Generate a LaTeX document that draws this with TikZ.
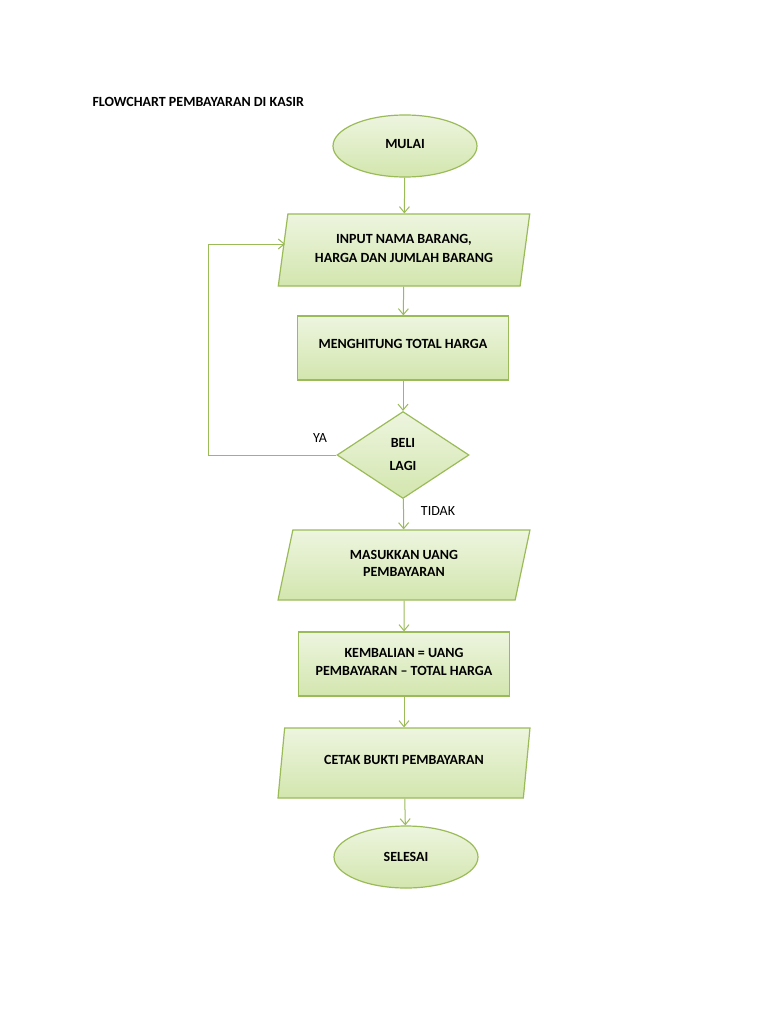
\documentclass[tikz,border=0pt]{standalone}
\usepackage{fontspec}
\setmainfont{Carlito}
\usetikzlibrary{shapes.geometric,arrows.meta}
\definecolor{gtop}{HTML}{EDF5DF}
\definecolor{gbot}{HTML}{D3E6AE}
\definecolor{gline}{HTML}{9BBB59}
\begin{document}
\begin{tikzpicture}[x=1pt,y=-1pt,
 box/.style={draw=gline,top color=gtop,bottom color=gbot,line width=1.2pt,align=center,font=\fontsize{14}{23}\selectfont\bfseries},
 term/.style={box,ellipse,minimum width=144pt,minimum height=62pt},
 proc/.style={box,rectangle,minimum width=211pt,minimum height=64pt},
 io/.style={box,trapezium,trapezium left angle=79,trapezium right angle=101,minimum width=240pt,minimum height=70pt,inner xsep=0pt,trapezium stretches=true},
 dec/.style={box,diamond,minimum width=132pt,minimum height=87pt,aspect=1.5,inner sep=0pt},
 arr/.style={draw=gline,line width=1pt,-{Straight Barb[length=6pt,width=10pt]}},
 lbl/.style={font=\fontsize{14}{16}\selectfont}]
\useasboundingbox (0,0) rectangle (768,1024);
\node[anchor=west,lbl,font=\fontsize{14}{16}\selectfont\bfseries] (title) at (89,102) {FLOWCHART PEMBAYARAN DI KASIR};
\node[term] (mulai) at (405,146) {\raisebox{4pt}{MULAI}};
\node[io,minimum width=252pt,minimum height=72pt] (in1) at (404,250) {\raisebox{3pt}{\shortstack{INPUT NAMA BARANG,\\[5pt]HARGA DAN JUMLAH BARANG}}};
\node[proc] (hit) at (403,348) {\raisebox{8pt}{MENGHITUNG TOTAL HARGA}};
\node[dec] (beli) at (403,455) {BELI\\LAGI};
\node[io,minimum width=252pt,minimum height=70pt] (masuk) at (404,565) {\raisebox{4pt}{\shortstack{MASUKKAN UANG\\[5pt]PEMBAYARAN}}};
\node[proc] (kemb) at (404,664) {\raisebox{4pt}{\shortstack{KEMBALIAN = UANG\\[5pt]PEMBAYARAN – TOTAL HARGA}}};
\node[io,minimum width=252pt,minimum height=70pt] (cetak) at (404,763) {\raisebox{7pt}{CETAK BUKTI PEMBAYARAN}};
\node[term] (sel) at (406,857) {SELESAI};
\draw[arr] (mulai) -- (in1);
\draw[arr] (in1) -- (hit);
\draw[arr] (hit) -- (beli);
\draw[arr] (beli) -- (masuk);
\draw[arr] (masuk) -- (kemb);
\draw[arr] (kemb) -- (cetak);
\draw[arr] (cetak) -- (sel);
\coordinate (c1) at (208,455);
\coordinate (c2) at (208,244);
\coordinate (c3) at (285,244);
\draw[arr] (beli.west) -- (c1) -- (c2) -- (c3);
\node[lbl] (ya) at (320,438) {YA};
\node[lbl] (tidak) at (438,511) {TIDAK};
\end{tikzpicture}
\end{document}
